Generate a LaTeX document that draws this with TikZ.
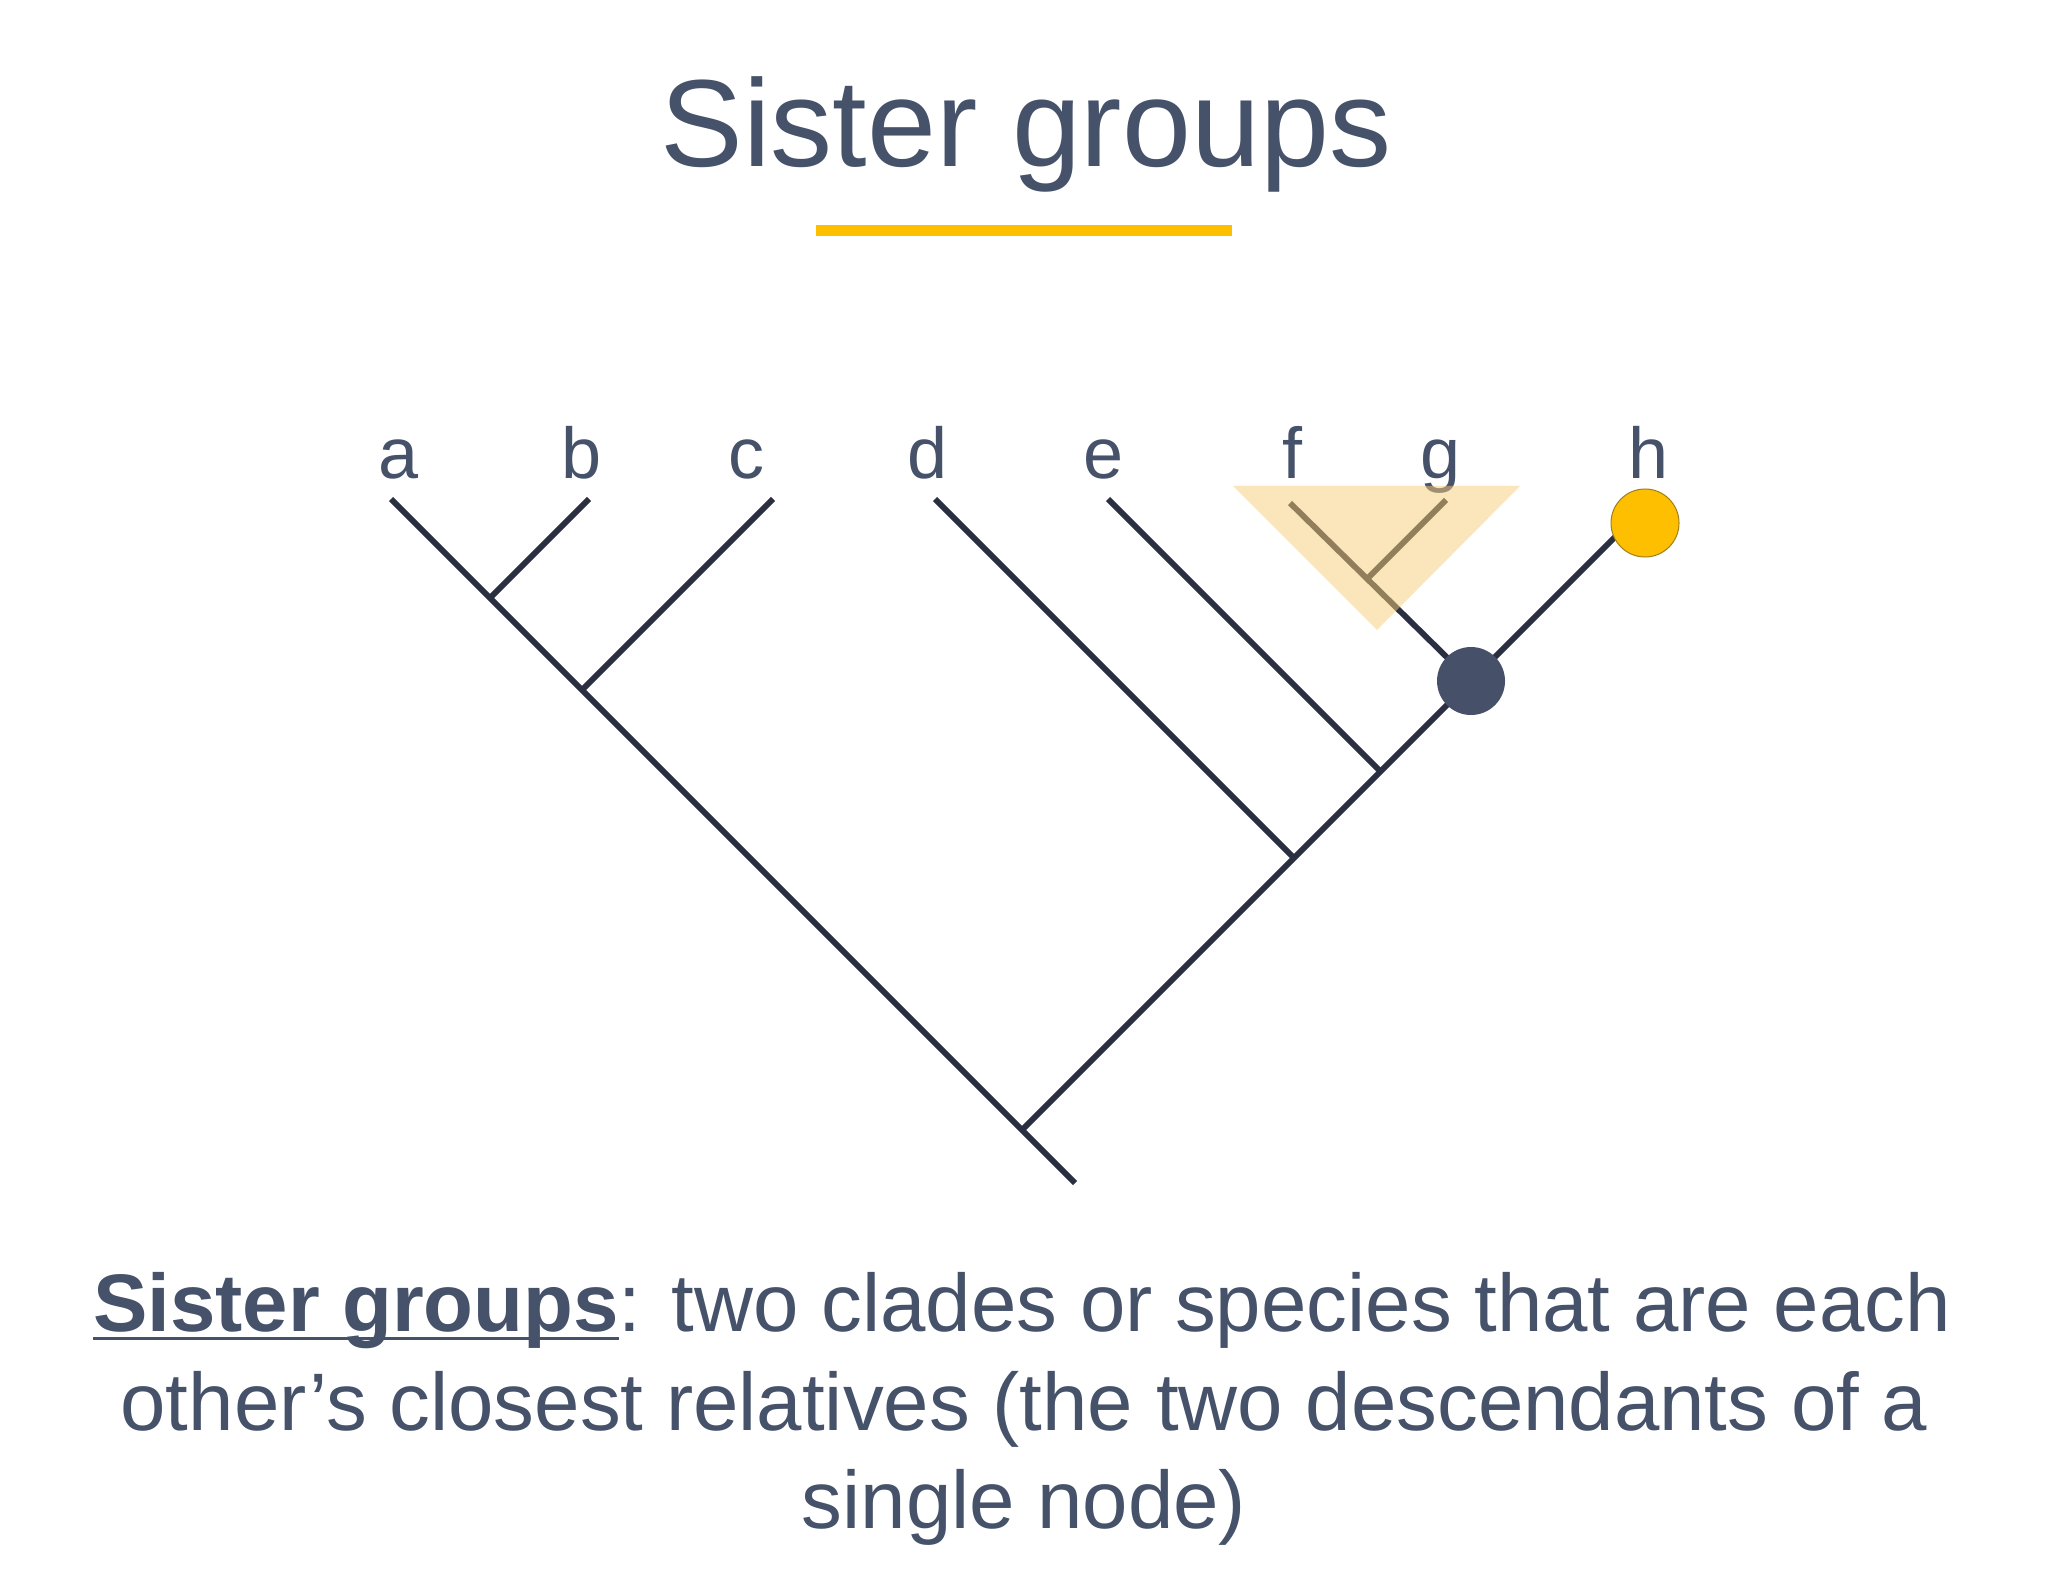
\documentclass[tikz,border=0pt]{standalone}
\usepackage{fontspec}
\setmainfont{Liberation Sans}
\definecolor{txt}{HTML}{45526A}
\definecolor{tree}{HTML}{2A3041}
\definecolor{dnode}{HTML}{465069}
\definecolor{gold}{HTML}{FDBF00}
\definecolor{goldedge}{HTML}{A07F1A}
\definecolor{cladefill}{RGB}{249,204,118}
\newsavebox{\ulbox}
\newcommand{\myul}[1]{\sbox{\ulbox}{#1}\rlap{\rule[-4.3pt]{\wd\ulbox}{1.65pt}}\usebox{\ulbox}}
\begin{document}
\begin{tikzpicture}[x=0.5pt,y=-0.5pt,
  branch/.style={draw=tree,line width=2.9pt},
  leaf/.style={font=\fontsize{36}{40}\selectfont,text=txt,anchor=base,inner sep=0pt},
  body/.style={font=\fontsize{40.8}{49}\selectfont,text=txt,anchor=base,inner sep=0pt},
  dot/.style={circle,inner sep=0pt,minimum size=34pt}]
\useasboundingbox (0,0) rectangle (2048,1582);
\fill[white] (0,0) rectangle (2048,1582);

% title
\node[font=\fontsize{62}{70}\selectfont,text=txt,anchor=base,inner sep=0pt] (title) at (1026,166.7) {Sister groups};
\fill[gold] (816,225) rectangle (1232,236);

% tips
\coordinate (ta) at (391,499);
\coordinate (tb) at (589,499);
\coordinate (tc) at (773,499);
\coordinate (td) at (935,499);
\coordinate (te) at (1108,499);
\coordinate (tf) at (1290,503);
\coordinate (tg) at (1446,500);
\coordinate (th) at (1636,516);
% junctions
\coordinate (jab) at (490,598);
\coordinate (jabc) at (582,690);
\coordinate (root) at (1022,1130);
\coordinate (rootend) at (1075,1183);
\coordinate (jd) at (1294,858);
\coordinate (je) at (1380.5,771.5);
\coordinate (jfg) at (1366.5,579.5);
\coordinate (jfgh) at (1471,681);

% labels
\node[leaf] (la) at (399,479) {a};
\node[leaf] (lb) at (582,479) {b};
\node[leaf] (lc) at (746,479) {c};
\node[leaf] (ld) at (928,479) {d};
\node[leaf] (le) at (1104,479) {e};
\node[leaf] (lf) at (1292,479) {f};
\node[leaf] (lg) at (1440,479) {g};
\node[leaf] (lh) at (1648,479) {h};

% branches
\draw[branch] (ta) -- (rootend);
\draw[branch] (tb) -- (jab);
\draw[branch] (tc) -- (jabc);
\draw[branch] (root) -- (jd) -- (je) -- (jfgh) -- (th);
\draw[branch] (td) -- (jd);
\draw[branch] (te) -- (je);
\draw[branch] (tf) -- (jfgh);
\draw[branch] (tg) -- (jfg);

% highlighted clade
\fill[cladefill,fill opacity=0.5] (1233,486) -- (1520,486) -- (1377,630) -- cycle;

% nodes
\node[dot,fill=dnode] (dark) at (jfgh) {};
\node[dot,fill=gold,draw=goldedge,line width=0.5pt] (yel) at (1645,523) {};

% definition text
\node[body] (line1) at (1022,1331.7) {\myul{\textbf{Sister groups}}: two clades or species that are each};
\node[body] (line2) at (1024,1430) {other’s closest relatives (the two descendants of a};
\node[body] (line3) at (1024,1528) {single node)};
\end{tikzpicture}
\end{document}
